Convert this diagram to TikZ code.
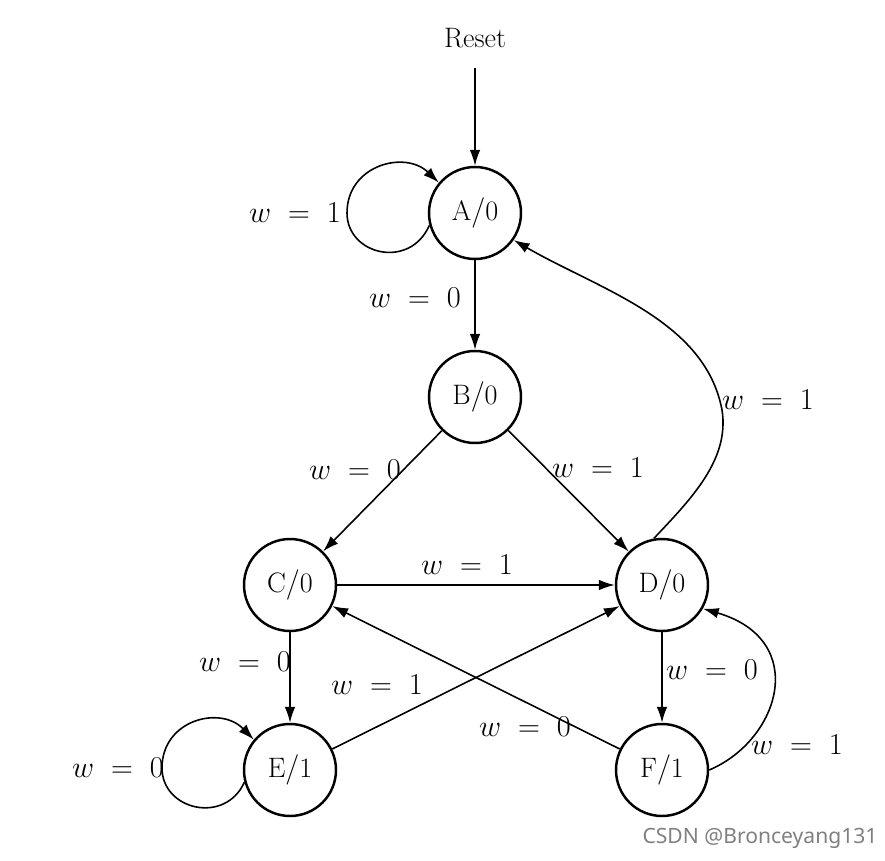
\documentclass[tikz,border=0pt]{standalone}
\usepackage{fontspec}
\newfontfamily\wmfont{Noto Sans}
\usetikzlibrary{arrows.meta}
\begin{document}
\begin{tikzpicture}[x=0.02cm,y=-0.02cm,
  st/.style={circle,draw,line width=1.4pt,minimum size=1.84cm,inner sep=0pt,font=\fontsize{16}{18}\selectfont},
  ed/.style={line width=0.9pt,-{Latex[length=9pt,width=6pt]}},
  lb/.style={font=\fontsize{16}{18}\selectfont}]
\useasboundingbox (0,0) rectangle (885,861);
\node[st] (A) at (475,213) {A$/$0};
\node[st] (B) at (475,397) {B$/$0};
\node[st] (C) at (290,585) {C$/$0};
\node[st] (D) at (662,585) {D$/$0};
\node[st] (E) at (290,770) {E$/$1};
\node[st] (F) at (662,770) {F$/$1};
\node[lb] (R) at (475,38) {Reset};
\draw[ed] (475,68) -- (A);
\draw[ed] (A.195) .. controls (410,270) and (347,255) .. (347,213) .. controls (347,165) and (405,150) .. (A.140);
\node[lb] at (295,213) {$w\;=\;1$};
\draw[ed] (E.195) .. controls (225,825) and (162,810) .. (162,768) .. controls (162,720) and (220,705) .. (E.140);
\node[lb] at (118,768) {$w\;=\;0$};
\draw[ed] (A) -- (B); \node[lb] at (415,298) {$w\;=\;0$};
\draw[ed] (B) -- (C); \node[lb] at (355,470) {$w\;=\;0$};
\draw[ed] (B) -- (D); \node[lb] at (598,468) {$w\;=\;1$};
\draw[ed] (C) -- (D); \node[lb] at (467,565) {$w\;=\;1$};
\draw[ed] (D.100) .. controls (690,500) and (730,460) .. (722,410) .. controls (705,320) and (600,290) .. (A.-35);
\node[lb] at (768,400) {$w\;=\;1$};
\draw[ed] (C) -- (E); \node[lb] at (245,662) {$w\;=\;0$};
\draw[ed] (D) -- (F); \node[lb] at (712,670) {$w\;=\;0$};
\draw[ed] (E) -- (D); \node[lb] at (377,685) {$w\;=\;1$};
\draw[ed] (F) -- (C); \node[lb] at (525,727) {$w\;=\;0$};
\draw[ed] (F.east) .. controls (780,740) and (810,640) .. (D.-30);
\node[lb] at (797,745) {$w\;=\;1$};
\node[font=\wmfont\fontsize{12}{14}\selectfont,text=gray] at (760,838) {CSDN @Bronceyang131};
\end{tikzpicture}
\end{document}
